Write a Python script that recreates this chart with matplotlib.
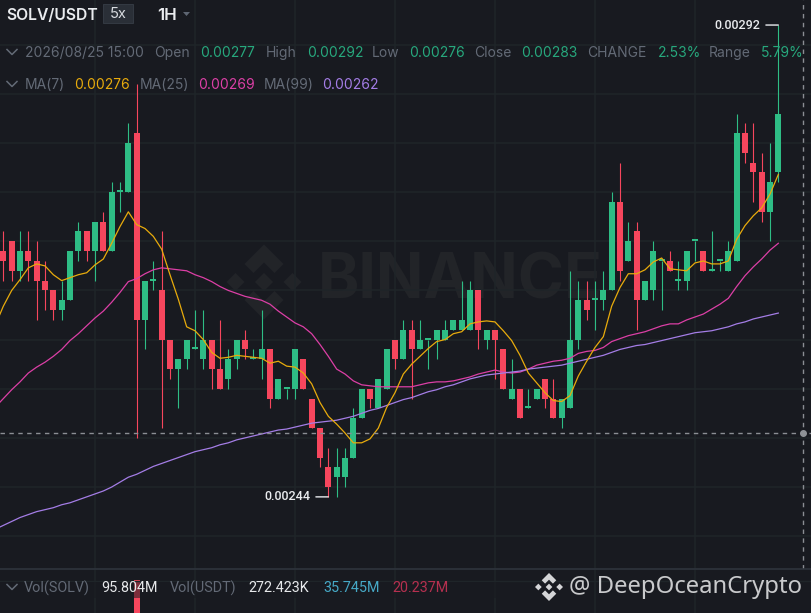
import matplotlib
matplotlib.use("Agg")
import matplotlib.pyplot as plt
from matplotlib.patches import Polygon, Rectangle

W, H = 811, 613
UNIT = 1e-5
BG = '#181a20'; GRID = '#1f2529'; UP = '#2ebd85'; DOWN = '#f6465d'
GRAY = '#636a76'; TXTUP = '#27a87d'; C7 = '#e8ab0c'; C25 = '#dc3fa6'; C99 = '#a47de6'

opens = [269,270,267,269,268,266,265,263,264,269,271,269,272,269,275,275,281,262,266,265,260,257,258,259,258,260,257,256,258,260,258,258,
         259,254,255,255,258,254,251,247,246,246,248,252,255,253,255,260,258,261,259,260,260,260,261,261,261,265,260,261,259,254,255,253,254,
         256,254,252,253,260,264,264,264,265,274,268,271,264,265,268,268,266,266,270,269,267,268,267,268,281,278,277,273,277]
highs = [271,270,271,271,270,268,265,266,269,272,271,272,273,276,276,282,286,266,268,271,260,258,260,263,263,260,262,259,260,261,259,263,
         259,256,255,259,258,254,251,249,249,249,253,255,255,256,259,260,262,262,262,260,261,262,262,266,266,265,261,261,259,258,255,255,255,
         256,256,254,267,266,266,266,267,275,278,272,272,266,270,268,269,268,269,270,269,271,268,270,283,282,282,279,280,292]
lows = [266,266,266,266,262,263,262,262,264,268,268,266,269,269,273,275,250,259,265,251,256,253,257,259,257,255,255,255,257,258,258,256,
        253,254,254,254,255,251,247,244,244,245,248,252,253,253,255,257,258,254,259,257,258,260,261,261,261,259,259,256,255,254,252,253,254,
        253,252,251,253,259,262,261,263,265,266,268,261,264,264,263,267,265,265,268,267,267,267,267,268,278,274,272,270,276]
closes = [268,267,269,268,266,265,263,264,269,271,269,272,269,275,275,280,262,266,266,260,257,258,260,259,260,257,255,258,260,259,258,259,
          254,256,255,259,255,251,248,245,247,248,252,255,254,256,259,258,261,259,260,260,261,261,262,262,265,261,261,260,255,255,252,253,255,
          254,252,254,260,264,263,264,265,274,267,270,264,266,269,268,267,266,269,270,267,267,268,269,281,279,277,273,276,283]
volume_m = {16: 1075.0}

ma7 = [261.4,263.4,265.0,266.1,267.3,267.7,267.5,266.6,266.0,266.3,266.6,266.8,267.6,268.2,269.8,271.5,273.0,271.7,271.3,270.5,269.2,266.6,264.1,261.3,260.9,260.0,258.7,258.1,258.2,258.4,258.3,258.2,258.1,
       257.6,257.8,257.3,257.2,256.6,255.5,253.6,252.2,251.4,250.5,249.5,249.5,249.9,251.0,253.1,254.6,256.5,257.5,258.3,259.1,259.8,260.0,260.6,260.8,261.6,261.8,261.9,261.8,260.9,259.9,258.4,256.6,255.6,
       254.6,253.8,253.7,254.3,256.3,257.8,259.2,260.3,263.4,265.3,266.7,266.7,267.1,267.9,268.3,267.2,267.1,267.0,267.8,268.0,267.7,267.7,268.0,270.2,271.6,272.6,273.4,274.8,276.8]
ma25 = [253.1,254.0,254.9,255.7,256.6,257.2,257.7,258.3,259.0,259.9,260.6,261.4,262.2,262.9,263.8,264.8,265.9,266.2,266.7,267.1,267.3,267.2,267.1,267.0,266.6,266.3,265.9,265.4,265.0,264.7,264.4,264.2,264.0,
        263.6,262.9,262.3,261.7,261.3,260.6,259.5,258.3,257.0,256.5,255.8,255.4,255.3,255.2,255.2,255.2,255.2,255.2,255.4,255.6,255.7,255.7,255.8,256.0,256.2,256.5,256.7,256.9,256.7,256.6,256.7,257.0,257.4,
        257.6,257.8,257.9,258.1,258.6,258.8,258.9,259.2,259.8,260.1,260.4,260.6,260.8,261.1,261.4,261.6,261.6,262.0,262.3,262.6,263.1,263.6,264.2,265.4,266.5,267.4,268.2,269.1,269.8]
ma99 = [240.7,241.1,241.5,241.9,242.2,242.5,242.7,242.9,243.2,243.4,243.7,244.0,244.3,244.6,245.0,245.5,246.0,246.3,246.7,247.1,247.4,247.7,248.0,248.3,248.6,248.8,249.0,249.3,249.5,249.8,250.0,250.2,250.4,
        250.6,250.8,250.9,251.1,251.3,251.5,251.6,251.7,251.8,252.0,252.2,252.5,252.8,253.0,253.3,253.6,253.9,254.1,254.4,254.7,254.9,255.2,255.4,255.7,256.0,256.2,256.4,256.5,256.6,256.7,256.8,257.0,257.1,
        257.2,257.3,257.4,257.6,257.8,258.0,258.2,258.4,258.7,259.0,259.2,259.4,259.5,259.7,259.9,260.1,260.3,260.5,260.7,260.8,260.9,261.1,261.3,261.6,261.8,262.1,262.3,262.5,262.7]
last_price = 250.5
high_label, low_label = '0.00292', '0.00244'

# pixel <-> scale anchors
PX_PER_BAR = 25 / 3
def bar_limit(px):
    return (px - 10 / 3) / PX_PER_BAR
def price_limit(py):
    return (280 + (143 - py) / 9.83) * UNIT

fig = plt.figure(figsize=(W / 100, H / 100), dpi=100, facecolor=BG)
def panel(top, bottom, z):
    a = fig.add_axes([0, 1 - bottom / H, 1, (bottom - top) / H], zorder=z)
    a.patch.set_alpha(0)
    for s in a.spines.values():
        s.set_visible(False)
    return a

back = panel(0, H, 0); back.set_xlim(0, W); back.set_ylim(H, 0); back.axis('off')
ax = panel(0, 569, 1)
vol = panel(570, H, 1)
top = panel(0, H, 3); top.set_xlim(0, W); top.set_ylim(H, 0); top.axis('off')

def logo(a, cx, cy, r, color, z=1):
    shapes = [[(0, 1), (.52, .48), (.28, .24), (0, .52), (-.28, .24), (-.52, .48)],
              [(0, -1), (.52, -.48), (.28, -.24), (0, -.52), (-.28, -.24), (-.52, -.48)],
              [(0, .24), (.24, 0), (0, -.24), (-.24, 0)],
              [(-.76, .24), (-.52, 0), (-.76, -.24), (-1, 0)],
              [(.76, .24), (1, 0), (.76, -.24), (.52, 0)]]
    for s in shapes:
        a.add_patch(Polygon([(cx + p * r, cy - q * r) for p, q in s], closed=True, fc=color, ec='none', zorder=z))

logo(back, 264, 282, 37.5, '#222428')
back.text(318, 282, 'BINANCE', family='Inter', weight='bold', fontsize=45, color='#222428', va='center', ha='left')

xs = list(range(len(opens)))
ax.set_xlim(bar_limit(0), bar_limit(W))
ax.set_ylim(price_limit(569), price_limit(0))
ax.set_xticks(range(11, 95, 12))
ax.set_yticks([v * UNIT for v in range(240, 295, 5)])
ax.tick_params(length=0, labelbottom=False, labelleft=False)
ax.grid(True, color=GRID, lw=1.1, zorder=0)
ax.set_axisbelow(True)

cols = [UP if c >= o else DOWN for o, c in zip(opens, closes)]
ax.vlines(xs, [v * UNIT for v in lows], [v * UNIT for v in highs], colors=cols, lw=0.8, zorder=2)
bottoms = [min(o, c) * UNIT for o, c in zip(opens, closes)]
heights = [max(abs(o - c), 0.2) * UNIT for o, c in zip(opens, closes)]
ax.bar(xs, heights, bottom=bottoms, width=0.72, color=cols, lw=0, zorder=3)

mx = list(range(-1, len(ma7) - 1))
ax.plot(mx, [v * UNIT for v in ma7], color=C7, lw=0.9, zorder=5)
ax.plot(mx, [v * UNIT for v in ma25], color=C25, lw=0.9, zorder=4)
ax.plot(mx, [v * UNIT for v in ma99], color=C99, lw=0.9, zorder=4)

ax.axhline(last_price * UNIT, color='#8b8e94', lw=1.0, dashes=(3.2, 3.2), zorder=6)
crossx = bar_limit(803)
ax.axvline(crossx, color='#8b8e94', lw=1.0, dashes=(3.2, 3.2), zorder=6)
ax.plot([crossx], [last_price * UNIT], 'o', ms=4, color='#8f9297', zorder=7, clip_on=False)

for txt, xi, val in [(high_label, 93, 292), (low_label, 39, 244)]:
    ax.annotate(txt, xy=(xi, val * UNIT), xytext=(-18 * 0.72, 0), textcoords='offset points',
                ha='right', va='center', fontsize=9.0, family='Roboto', weight='medium', color='#eaecef', zorder=8,
                arrowprops=dict(arrowstyle='-', color='#eaecef', lw=1.0, shrinkA=2, shrinkB=0))

# volume panel
vol.set_xlim(bar_limit(0), bar_limit(W))
vol.set_ylim(0, 1400)
vol.set_xticks(range(11, 95, 12)); vol.set_yticks([])
vol.tick_params(length=0, labelbottom=False)
vol.grid(True, axis='x', color=GRID, lw=1.1, zorder=0)
vol.set_axisbelow(True)
vol.bar(list(volume_m), list(volume_m.values()), width=0.72, color=DOWN, lw=0, zorder=2)

# separator and legend band
top.plot([0, W], [569, 569], color='#2e343c', lw=1.2, zorder=1)
top.plot([0, W], [581, 581], color=GRID, lw=1.0, zorder=1)
top.add_patch(Rectangle((0, 581.5), 500, 16, fc=BG, ec='none', alpha=0.55, zorder=1))

def t(x, y, s, color=GRAY, size=10, family='Inter', weight='normal', ha='left'):
    top.text(x, y, s, color=color, fontsize=size, family=family, weight=weight, ha=ha, va='center', zorder=5)

def chevron(x, y):
    top.plot([x - 5, x, x + 5], [y - 2.5, y + 2.5, y - 2.5], color=GRAY, lw=1.1, zorder=5)

# header
t(6, 15, 'SOLV/USDT', '#eaecef', 11.3, weight='semibold')
top.add_patch(Rectangle((103, 3.5), 30, 19.5, fc='#2a2f37', ec='#343a43', lw=0.7, zorder=4))
t(118, 14, '5x', '#d8dbe0', 10.6, ha='center')
t(157, 15, '1H', '#eaecef', 12.2, weight='semibold')
top.add_patch(Polygon([(183, 12), (190, 12), (186.5, 16)], fc='#5e6673', ec='none', zorder=5))

chevron(12, 52)
row2 = [(25, '2026/08/25 15:00', GRAY), (154, 'Open', GRAY), (200, '0.00277', TXTUP), (266, 'High', GRAY),
        (307, '0.00292', TXTUP), (372, 'Low', GRAY), (409, '0.00276', TXTUP), (474, 'Close', GRAY),
        (521, '0.00283', TXTUP), (587, 'CHANGE', GRAY), (658, '2.53%', TXTUP), (709, 'Range', GRAY), (761, '5.79%', TXTUP)]
for x, s, c in row2:
    t(x, 53, s, c, 10.0)

chevron(12, 84)
row3 = [(25, 'MA(7)', GRAY), (74, '0.00276', C7), (140, 'MA(25)', GRAY), (198, '0.00269', C25),
        (264, 'MA(99)', GRAY), (322, '0.00262', C99)]
for x, s, c in row3:
    t(x, 85, s, c, 10.0)

chevron(12, 587)
row4 = [(24, 'Vol(SOLV)', GRAY), (101, '95.804M', '#e6e8ea'), (170, 'Vol(USDT)', GRAY), (248, '272.423K', '#e6e8ea'),
        (323, '35.745M', '#46a9c6'), (392, '20.237M', '#b5304f')]
for x, s, c in row4:
    t(x, 588.5, s, c, 10.4, family='Roboto')

logo(top, 549, 587, 14, '#d4d5d7', z=5)
t(569, 587, '@ DeepOceanCrypto', '#c9cacc', 17.2, family='Noto Sans')

fig.savefig('out.png', dpi=100, facecolor=BG)
